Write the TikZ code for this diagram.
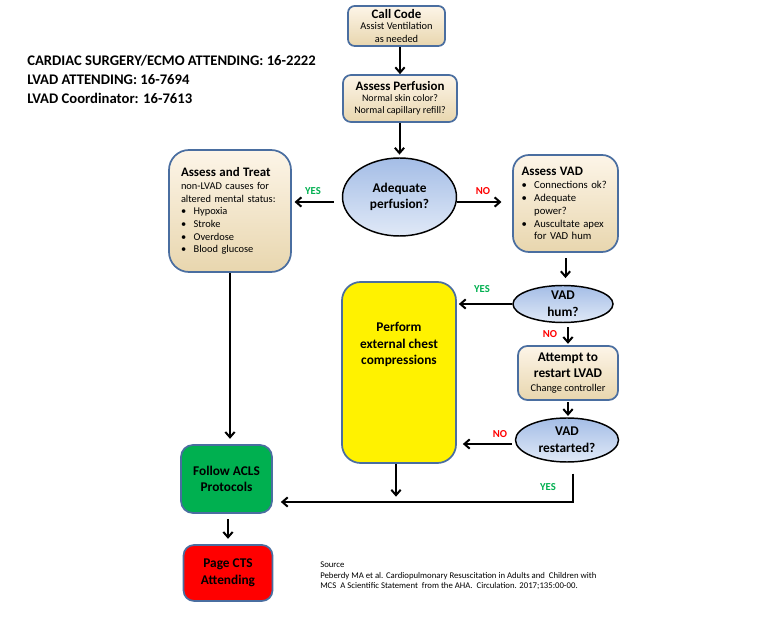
\documentclass[tikz,border=0pt]{standalone}
\usepackage{fontspec}
\setmainfont{Carlito}
\usetikzlibrary{arrows.meta, shapes.geometric, calc}
\definecolor{boxline}{RGB}{74, 110, 160}
\definecolor{creamtop}{RGB}{253, 245, 232}
\definecolor{creambot}{RGB}{232, 214, 174}
\definecolor{bluetop}{RGB}{164, 189, 230}
\definecolor{bluebot}{RGB}{224, 233, 247}
\definecolor{okgreen}{RGB}{0, 176, 80}
\definecolor{aclsgreen}{RGB}{0, 176, 80}
\newcommand{\ttlfont}{\fontsize{9.7}{11.5}\selectfont\bfseries}
\newcommand{\subfont}{\fontsize{7.8}{9.2}\selectfont\mdseries}
\newcommand{\itm}{\makebox[9.5pt][l]{\textbullet}}
\newcommand{\ind}{\hspace*{9.5pt}}
\tikzset{>={Straight Barb[length=4pt,width=7pt]}}
\tikzset{
  wh/.style 2 args={minimum width=#1*0.75pt, minimum height=#2*0.75pt},
  stepbox/.style={draw=boxline, line width=1.3pt, top color=creamtop, bottom color=creambot, inner sep=2pt, align=center, font=\subfont},
  colbox/.style={draw=boxline, line width=1.3pt, inner sep=2pt, align=center, font=\fontsize{10}{12.5}\selectfont\bfseries},
  decide/.style={ellipse, draw=black, line width=1.1pt, top color=bluetop, bottom color=bluebot, inner sep=0pt, align=center, font=\fontsize{10}{12.5}\selectfont\bfseries},
  flow/.style={->, line width=1.5pt},
  yeslab/.style={text=okgreen, font=\fontsize{8}{9}\selectfont\bfseries},
  nolab/.style={text=red, font=\fontsize{8}{9}\selectfont\bfseries}
}
\begin{document}
\begin{tikzpicture}[x=0.75pt, y=-0.75pt]
\useasboundingbox[fill=white] (0,0) rectangle (772,623);
% contacts and source
\node[anchor=north west, inner sep=0, align=left, font=\fontsize{11}{14.25}\selectfont\bfseries] (contacts) at (27,54.5)
  {CARDIAC SURGERY/ECMO ATTENDING: 16-2222\\LVAD ATTENDING: 16-7694\\LVAD Coordinator: 16-7613};
\node[anchor=north west, inner sep=0, align=left, font=\fontsize{6.55}{7.8}\selectfont] (source) at (320,562)
  {Source\\Peberdy MA et al. Cardiopulmonary Resuscitation in Adults and\ \ Children with\\MCS\ \ A Scientific Statement\ \ from the AHA.\ \ Circulation. 2017;135:00-00.};
% boxes
\node[stepbox, wh={97}{40}, rounded corners=5pt] (callcode) at (396.5,26)
  {{\ttlfont Call Code}\\[-1pt]Assist Ventilation\\as needed};
\node[stepbox, wh={114}{47}, rounded corners=6pt, font=\fontsize{7.5}{9}\selectfont] (perfusion) at (400,98.5)
  {{\ttlfont Assess Perfusion}\\[-1pt]Normal skin color?\\Normal capillary refill?};
\node[decide, wh={114}{78}] (adequate) at (399.5,197) {Adequate\\perfusion?};
\node[stepbox, wh={122}{122}, rounded corners=15pt, text width=98*0.75pt, align=left] (treat) at (230,211)
  {{\ttlfont Assess and Treat\par}\fontsize{7.8}{9.5}\selectfont\mdseries non-LVAD causes for\\altered mental status:\\
   \itm Hypoxia\\\itm Stroke\\\itm Overdose\\\itm Blood glucose};
\node[stepbox, wh={105}{97}, rounded corners=12pt, text width=88*0.75pt, align=left] (assessvad) at (565.5,203.5)
  {{\ttlfont Assess VAD\par}\fontsize{8}{9.6}\selectfont\mdseries \itm Connections ok?\\\itm Adequate\\\ind power?\\\itm Auscultate apex\\\ind for VAD hum};
\node[decide, wh={100}{37}] (vadhum) at (563,304) {VAD\\hum?};
\node[colbox, wh={114}{181}, rounded corners=14pt, fill=yellow] (chest) at (399,372.5) {};
\node[align=center, inner sep=0, font=\fontsize{10}{12.5}\selectfont\bfseries, anchor=north] (chesttext) at ($(chest.north)+(0,41)$)
  {Perform\\external chest\\compressions};
\node[stepbox, wh={100}{54}, rounded corners=7pt, font=\fontsize{10}{12}\selectfont\bfseries] (attempt) at (568,373)
  {Attempt to\\restart LVAD\\[-1pt]{\subfont Change controller}};
\node[decide, wh={103}{44}] (restarted) at (567,440) {VAD\\restarted?};
\node[colbox, wh={91}{68}, rounded corners=9pt, fill=aclsgreen] (acls) at (226.5,479) {Follow ACLS\\Protocols};
\node[colbox, wh={89}{56}, rounded corners=8pt, fill=red] (page) at (228,573) {Page CTS\\Attending};
% connectors
\draw[flow] (perfusion.north |- callcode.south) -- (perfusion.north);
\draw[flow, shorten >=2pt] (adequate.north |- perfusion.south) -- (adequate.north);
\coordinate (yesleft) at ($(adequate.west)+(0,5)$);
\draw[flow, shorten <=6pt, shorten >=2pt] (yesleft) -- (yesleft -| treat.east);
\node[yeslab] (yes1) at (313,191) {YES};
\coordinate (noright) at ($(adequate.east)+(0,5)$);
\draw[flow, shorten >=8pt] (noright) -- (noright -| assessvad.west);
\node[nolab] (no1) at (483,191) {NO};
\draw[flow, shorten <=4pt, shorten >=5pt] (assessvad.south) -- (assessvad.south |- vadhum.north);
\draw[flow, shorten >=1.5pt] (vadhum.west) -- (vadhum.west -| chest.east);
\node[yeslab] (yes2) at (482,289) {YES};
\draw[flow, shorten <=3pt, shorten >=1pt] (attempt.north |- vadhum.south) -- (attempt.north);
\node[nolab] (no2) at (550,334) {NO};
\draw[flow, shorten <=1pt, shorten >=1pt] (attempt.south) -- (attempt.south |- restarted.north);
\coordinate (noleft) at ($(restarted.west)+(0,4)$);
\draw[flow, shorten <=2pt, shorten >=4.5pt] (noleft) -- (noleft -| chest.east);
\node[nolab] (no3) at (500,434) {NO};
\coordinate (restartout) at ($(restarted.south)+(6,11)$);
\coordinate (aclsin) at ($(acls.east)+(0,23)$);
\draw[flow, shorten >=6pt] (restartout) |- (aclsin);
\node[yeslab] (yes3) at (548,487) {YES};
\coordinate (chestout) at ($(chest.south)+(-3,0)$);
\draw[flow, shorten >=4pt] (chestout) -- (chestout |- aclsin);
\draw[flow, shorten >=4pt] (treat.south) -- (treat.south |- acls.north);
\draw[flow, shorten <=4pt, shorten >=4pt] (page.north |- acls.south) -- (page.north);
\end{tikzpicture}
\end{document}
